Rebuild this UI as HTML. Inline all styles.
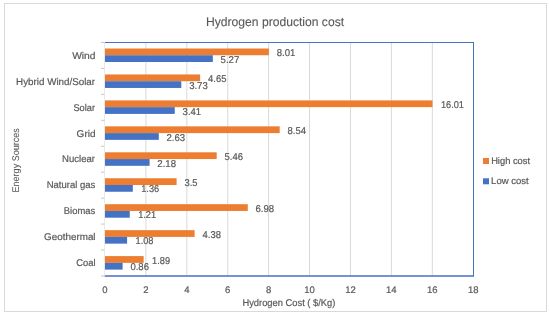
<!DOCTYPE html>
<html><head><meta charset="utf-8"><title>Hydrogen production cost</title>
<style>html,body{margin:0;padding:0;background:#fff;}svg{display:block;text-rendering:geometricPrecision;}</style></head>
<body><svg width="550" height="315" viewBox="0 0 550 315">
<rect x="4.5" y="3.5" width="542" height="308" fill="#fff" stroke="#D9D9D9" stroke-width="1"/>
<line x1="145.91" y1="42.5" x2="145.91" y2="276" stroke="#D9D9D9" stroke-width="1"/>
<line x1="186.82" y1="42.5" x2="186.82" y2="276" stroke="#D9D9D9" stroke-width="1"/>
<line x1="227.74" y1="42.5" x2="227.74" y2="276" stroke="#D9D9D9" stroke-width="1"/>
<line x1="268.65" y1="42.5" x2="268.65" y2="276" stroke="#D9D9D9" stroke-width="1"/>
<line x1="309.56" y1="42.5" x2="309.56" y2="276" stroke="#D9D9D9" stroke-width="1"/>
<line x1="350.47" y1="42.5" x2="350.47" y2="276" stroke="#D9D9D9" stroke-width="1"/>
<line x1="391.38" y1="42.5" x2="391.38" y2="276" stroke="#D9D9D9" stroke-width="1"/>
<line x1="432.30" y1="42.5" x2="432.30" y2="276" stroke="#D9D9D9" stroke-width="1"/>
<rect x="105.0" y="48.50" width="163.85" height="6.75" fill="#ED7D31"/>
<rect x="105.0" y="55.25" width="107.80" height="6.75" fill="#4472C4"/>
<rect x="105.0" y="74.45" width="95.12" height="6.75" fill="#ED7D31"/>
<rect x="105.0" y="81.20" width="76.30" height="6.75" fill="#4472C4"/>
<rect x="105.0" y="100.40" width="327.50" height="6.75" fill="#ED7D31"/>
<rect x="105.0" y="107.15" width="69.75" height="6.75" fill="#4472C4"/>
<rect x="105.0" y="126.35" width="174.69" height="6.75" fill="#ED7D31"/>
<rect x="105.0" y="133.10" width="53.80" height="6.75" fill="#4472C4"/>
<rect x="105.0" y="152.30" width="111.69" height="6.75" fill="#ED7D31"/>
<rect x="105.0" y="159.05" width="44.59" height="6.75" fill="#4472C4"/>
<rect x="105.0" y="178.25" width="71.60" height="6.75" fill="#ED7D31"/>
<rect x="105.0" y="185.00" width="27.82" height="6.75" fill="#4472C4"/>
<rect x="105.0" y="204.20" width="142.78" height="6.75" fill="#ED7D31"/>
<rect x="105.0" y="210.95" width="24.75" height="6.75" fill="#4472C4"/>
<rect x="105.0" y="230.15" width="89.60" height="6.75" fill="#ED7D31"/>
<rect x="105.0" y="236.90" width="22.09" height="6.75" fill="#4472C4"/>
<rect x="105.0" y="256.10" width="38.66" height="6.75" fill="#ED7D31"/>
<rect x="105.0" y="262.85" width="17.59" height="6.75" fill="#4472C4"/>
<line x1="104" y1="42.5" x2="474" y2="42.5" stroke="#4472C4" stroke-width="1"/>
<line x1="473.5" y1="42" x2="473.5" y2="276.5" stroke="#4472C4" stroke-width="1"/>
<line x1="104" y1="276" x2="474" y2="276" stroke="#4472C4" stroke-width="1.5"/>
<line x1="104.5" y1="42" x2="104.5" y2="276.5" stroke="#EAEAEA" stroke-width="1"/>
<line x1="101" y1="42.50" x2="104.5" y2="42.50" stroke="#C8C8C8" stroke-width="1"/>
<line x1="101" y1="68.44" x2="104.5" y2="68.44" stroke="#C8C8C8" stroke-width="1"/>
<line x1="101" y1="94.38" x2="104.5" y2="94.38" stroke="#C8C8C8" stroke-width="1"/>
<line x1="101" y1="120.32" x2="104.5" y2="120.32" stroke="#C8C8C8" stroke-width="1"/>
<line x1="101" y1="146.26" x2="104.5" y2="146.26" stroke="#C8C8C8" stroke-width="1"/>
<line x1="101" y1="172.20" x2="104.5" y2="172.20" stroke="#C8C8C8" stroke-width="1"/>
<line x1="101" y1="198.14" x2="104.5" y2="198.14" stroke="#C8C8C8" stroke-width="1"/>
<line x1="101" y1="224.08" x2="104.5" y2="224.08" stroke="#C8C8C8" stroke-width="1"/>
<line x1="101" y1="250.02" x2="104.5" y2="250.02" stroke="#C8C8C8" stroke-width="1"/>
<line x1="101" y1="275.96" x2="104.5" y2="275.96" stroke="#C8C8C8" stroke-width="1"/>
<g font-family="'Liberation Sans', Arial, sans-serif" fill="#595959" stroke="#595959" stroke-width="0.2">
<text x="206.01" y="26.00" font-size="12.5" textLength="138.08" lengthAdjust="spacingAndGlyphs" stroke-width="0.12">Hydrogen production cost</text>
<text x="72.15" y="58.65" font-size="9.8" textLength="23.41" lengthAdjust="spacingAndGlyphs">Wind</text>
<text x="16.10" y="84.60" font-size="9.8" textLength="78.97" lengthAdjust="spacingAndGlyphs">Hybrid Wind/Solar</text>
<text x="73.38" y="110.55" font-size="9.8" textLength="21.68" lengthAdjust="spacingAndGlyphs">Solar</text>
<text x="76.60" y="136.50" font-size="9.8" textLength="18.95" lengthAdjust="spacingAndGlyphs">Grid</text>
<text x="62.12" y="162.45" font-size="9.8" textLength="32.94" lengthAdjust="spacingAndGlyphs">Nuclear</text>
<text x="46.72" y="188.40" font-size="9.8" textLength="48.52" lengthAdjust="spacingAndGlyphs">Natural gas</text>
<text x="63.83" y="214.35" font-size="9.8" textLength="31.41" lengthAdjust="spacingAndGlyphs">Biomas</text>
<text x="44.10" y="240.30" font-size="9.8" textLength="51.45" lengthAdjust="spacingAndGlyphs">Geothermal</text>
<text x="76.33" y="266.25" font-size="9.8" textLength="19.20" lengthAdjust="spacingAndGlyphs">Coal</text>
<text x="276.64" y="55.98" font-size="9.9" textLength="18.69" lengthAdjust="spacingAndGlyphs">8.01</text>
<text x="220.62" y="62.73" font-size="9.9" textLength="18.67" lengthAdjust="spacingAndGlyphs">5.27</text>
<text x="208.10" y="81.92" font-size="9.9" textLength="18.41" lengthAdjust="spacingAndGlyphs">4.65</text>
<text x="189.14" y="88.67" font-size="9.9" textLength="18.58" lengthAdjust="spacingAndGlyphs">3.73</text>
<text x="440.90" y="107.88" font-size="9.9" textLength="23.05" lengthAdjust="spacingAndGlyphs">16.01</text>
<text x="182.59" y="114.62" font-size="9.9" textLength="18.63" lengthAdjust="spacingAndGlyphs">3.41</text>
<text x="287.48" y="133.82" font-size="9.9" textLength="18.49" lengthAdjust="spacingAndGlyphs">8.54</text>
<text x="166.52" y="140.57" font-size="9.9" textLength="18.71" lengthAdjust="spacingAndGlyphs">2.63</text>
<text x="224.51" y="159.78" font-size="9.9" textLength="18.60" lengthAdjust="spacingAndGlyphs">5.46</text>
<text x="157.31" y="166.53" font-size="9.9" textLength="18.70" lengthAdjust="spacingAndGlyphs">2.18</text>
<text x="184.44" y="185.72" font-size="9.9" textLength="13.05" lengthAdjust="spacingAndGlyphs">3.5</text>
<text x="141.22" y="192.47" font-size="9.9" textLength="18.01" lengthAdjust="spacingAndGlyphs">1.36</text>
<text x="255.49" y="211.67" font-size="9.9" textLength="18.71" lengthAdjust="spacingAndGlyphs">6.98</text>
<text x="138.14" y="218.42" font-size="9.9" textLength="18.06" lengthAdjust="spacingAndGlyphs">1.21</text>
<text x="202.58" y="237.62" font-size="9.9" textLength="18.43" lengthAdjust="spacingAndGlyphs">4.38</text>
<text x="135.49" y="244.38" font-size="9.9" textLength="18.01" lengthAdjust="spacingAndGlyphs">1.08</text>
<text x="152.06" y="263.58" font-size="9.9" textLength="18.05" lengthAdjust="spacingAndGlyphs">1.89</text>
<text x="130.42" y="270.33" font-size="9.9" textLength="18.59" lengthAdjust="spacingAndGlyphs">0.86</text>
<text x="105.00" y="292.9" font-size="9.5" text-anchor="middle">0</text>
<text x="145.91" y="292.9" font-size="9.5" text-anchor="middle">2</text>
<text x="186.82" y="292.9" font-size="9.5" text-anchor="middle">4</text>
<text x="227.74" y="292.9" font-size="9.5" text-anchor="middle">6</text>
<text x="268.65" y="292.9" font-size="9.5" text-anchor="middle">8</text>
<text x="309.56" y="292.9" font-size="9.5" text-anchor="middle">10</text>
<text x="350.47" y="292.9" font-size="9.5" text-anchor="middle">12</text>
<text x="391.38" y="292.9" font-size="9.5" text-anchor="middle">14</text>
<text x="432.30" y="292.9" font-size="9.5" text-anchor="middle">16</text>
<text x="473.21" y="292.9" font-size="9.5" text-anchor="middle">18</text>
<text x="242.43" y="306.30" font-size="9.8" textLength="92.95" lengthAdjust="spacingAndGlyphs">Hydrogen Cost ( $/Kg)</text>
<g transform="rotate(-90)"><text x="-192.44" y="18.70" font-size="9.7" textLength="64.17" lengthAdjust="spacingAndGlyphs" stroke-width="0.05">Energy Sources</text></g>
<text x="491.13" y="164.00" font-size="9.4" textLength="38.93" lengthAdjust="spacingAndGlyphs">High cost</text>
<text x="491.12" y="184.30" font-size="9.4" textLength="37.55" lengthAdjust="spacingAndGlyphs">Low cost</text>
</g>
<rect x="483" y="158" width="6" height="6" fill="#ED7D31"/>
<rect x="483" y="178.3" width="6" height="6" fill="#4472C4"/>
</svg></body></html>
